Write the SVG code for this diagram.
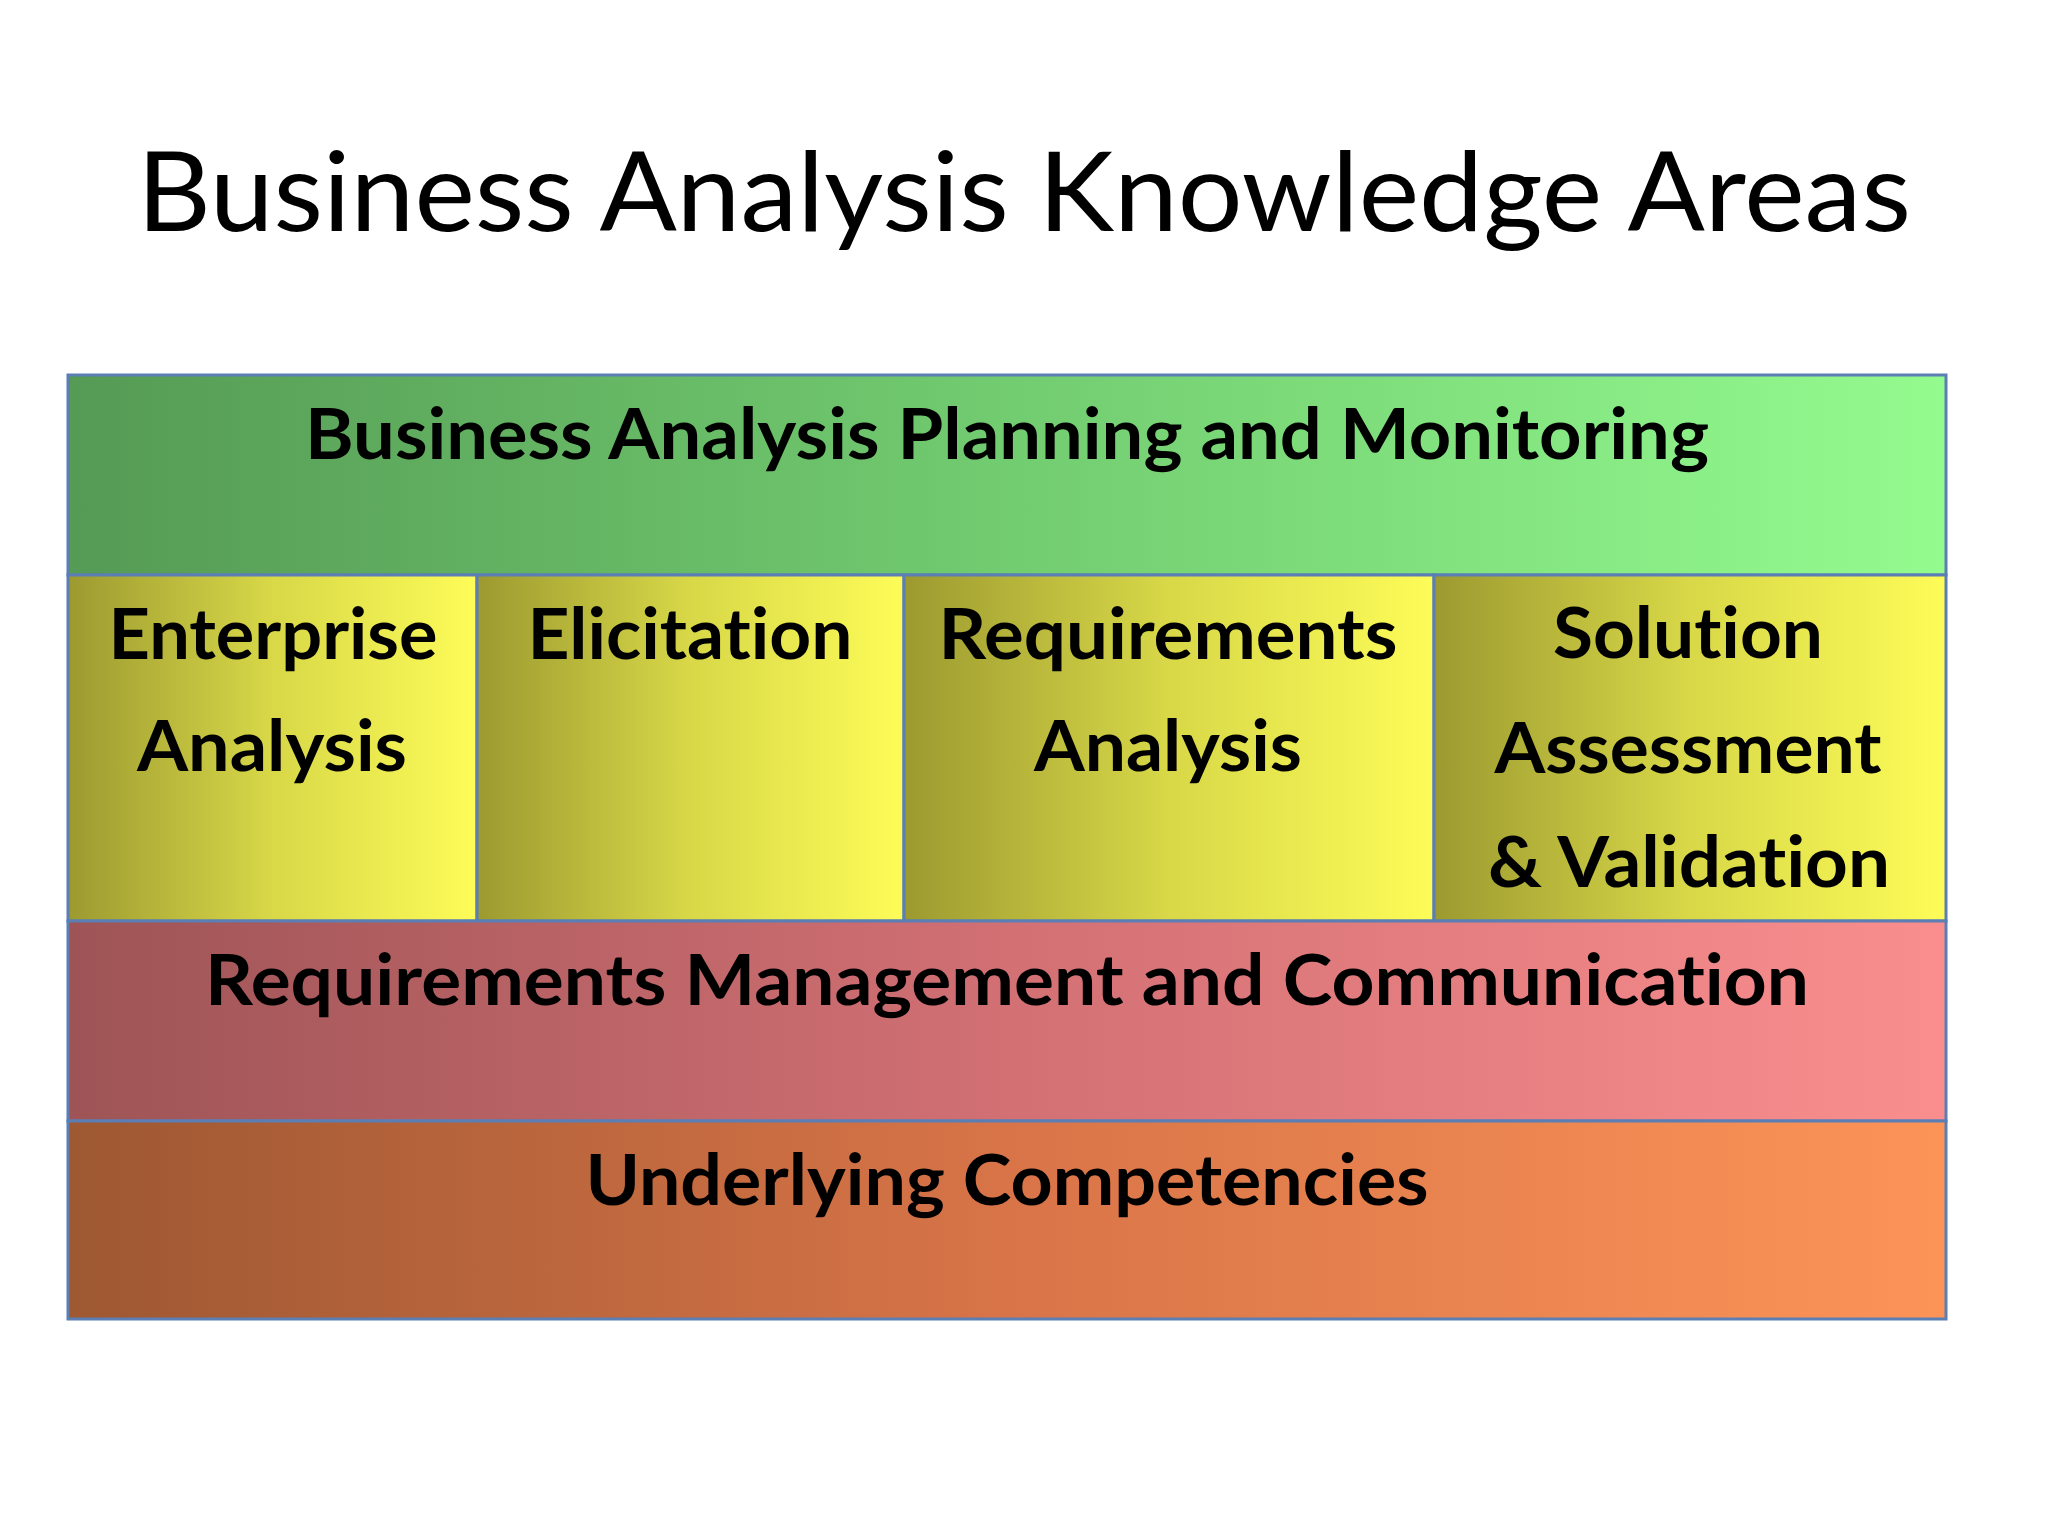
<svg xmlns="http://www.w3.org/2000/svg" width="2048" height="1536" viewBox="0 0 2048 1536">
<defs>
<linearGradient id="gGreen" x1="0" y1="0" x2="1" y2="0"><stop offset="0" stop-color="#559a55"/><stop offset="0.5" stop-color="#72cc70"/><stop offset="1" stop-color="#94fb8f"/></linearGradient>
<linearGradient id="gYellow" x1="0" y1="0" x2="1" y2="0"><stop offset="0" stop-color="#9c9a30"/><stop offset="0.5" stop-color="#d8d848"/><stop offset="1" stop-color="#fdfc58"/></linearGradient>
<linearGradient id="gRed" x1="0" y1="0" x2="1" y2="0"><stop offset="0" stop-color="#9e5456"/><stop offset="0.5" stop-color="#d27074"/><stop offset="1" stop-color="#fa8e8e"/></linearGradient>
<linearGradient id="gOrange" x1="0" y1="0" x2="1" y2="0"><stop offset="0" stop-color="#9e5832"/><stop offset="0.5" stop-color="#d87448"/><stop offset="1" stop-color="#fc9458"/></linearGradient>
</defs>
<style>
.box{stroke:#5b7fb4;stroke-width:3}
.lbl{font-family:Lato,"Liberation Sans",sans-serif;font-weight:bold;font-size:71px;fill:#000;text-anchor:middle;font-variant-ligatures:none;font-feature-settings:"liga" 0,"clig" 0}
.title{font-family:Lato,"Liberation Sans",sans-serif;font-size:110px;fill:#000;text-anchor:middle;font-variant-ligatures:none}
</style>
<rect width="2048" height="1536" fill="#ffffff"/>
<text class="title" x="1024" y="231" textLength="1774" lengthAdjust="spacingAndGlyphs">Business Analysis Knowledge Areas</text>
<g id="planning">
<rect class="box" x="68" y="375" width="1878" height="200" fill="url(#gGreen)"/>
<text class="lbl" x="1007" y="459" textLength="1404" lengthAdjust="spacingAndGlyphs">Business Analysis Planning and Monitoring</text>
</g>
<g id="enterprise">
<rect class="box" x="68" y="575" width="409" height="346" fill="url(#gYellow)"/>
<text class="lbl" x="273" y="659" textLength="329" lengthAdjust="spacingAndGlyphs">Enterprise</text>
<text class="lbl" x="272" y="771" textLength="270" lengthAdjust="spacingAndGlyphs">Analysis</text>
</g>
<g id="elicitation">
<rect class="box" x="477" y="575" width="427" height="346" fill="url(#gYellow)"/>
<text class="lbl" x="690" y="659" textLength="325" lengthAdjust="spacingAndGlyphs">Elicitation</text>
</g>
<g id="requirements-analysis">
<rect class="box" x="904" y="575" width="530" height="346" fill="url(#gYellow)"/>
<text class="lbl" x="1168" y="659" textLength="459" lengthAdjust="spacingAndGlyphs">Requirements</text>
<text class="lbl" x="1168" y="771" textLength="268" lengthAdjust="spacingAndGlyphs">Analysis</text>
</g>
<g id="solution">
<rect class="box" x="1434" y="575" width="512" height="346" fill="url(#gYellow)"/>
<text class="lbl" x="1688" y="658" textLength="270" lengthAdjust="spacingAndGlyphs">Solution</text>
<text class="lbl" x="1688" y="773" textLength="387" lengthAdjust="spacingAndGlyphs">Assessment</text>
<text class="lbl" x="1689" y="887" textLength="402" lengthAdjust="spacingAndGlyphs">&amp; Validation</text>
</g>
<g id="req-management">
<rect class="box" x="68" y="921" width="1878" height="200" fill="url(#gRed)"/>
<text class="lbl" x="1007" y="1005" textLength="1604" lengthAdjust="spacingAndGlyphs">Requirements Management and Communication</text>
</g>
<g id="competencies">
<rect class="box" x="68" y="1121" width="1878" height="198" fill="url(#gOrange)"/>
<text class="lbl" x="1007" y="1205" textLength="843" lengthAdjust="spacingAndGlyphs">Underlying Competencies</text>
</g>
</svg>
